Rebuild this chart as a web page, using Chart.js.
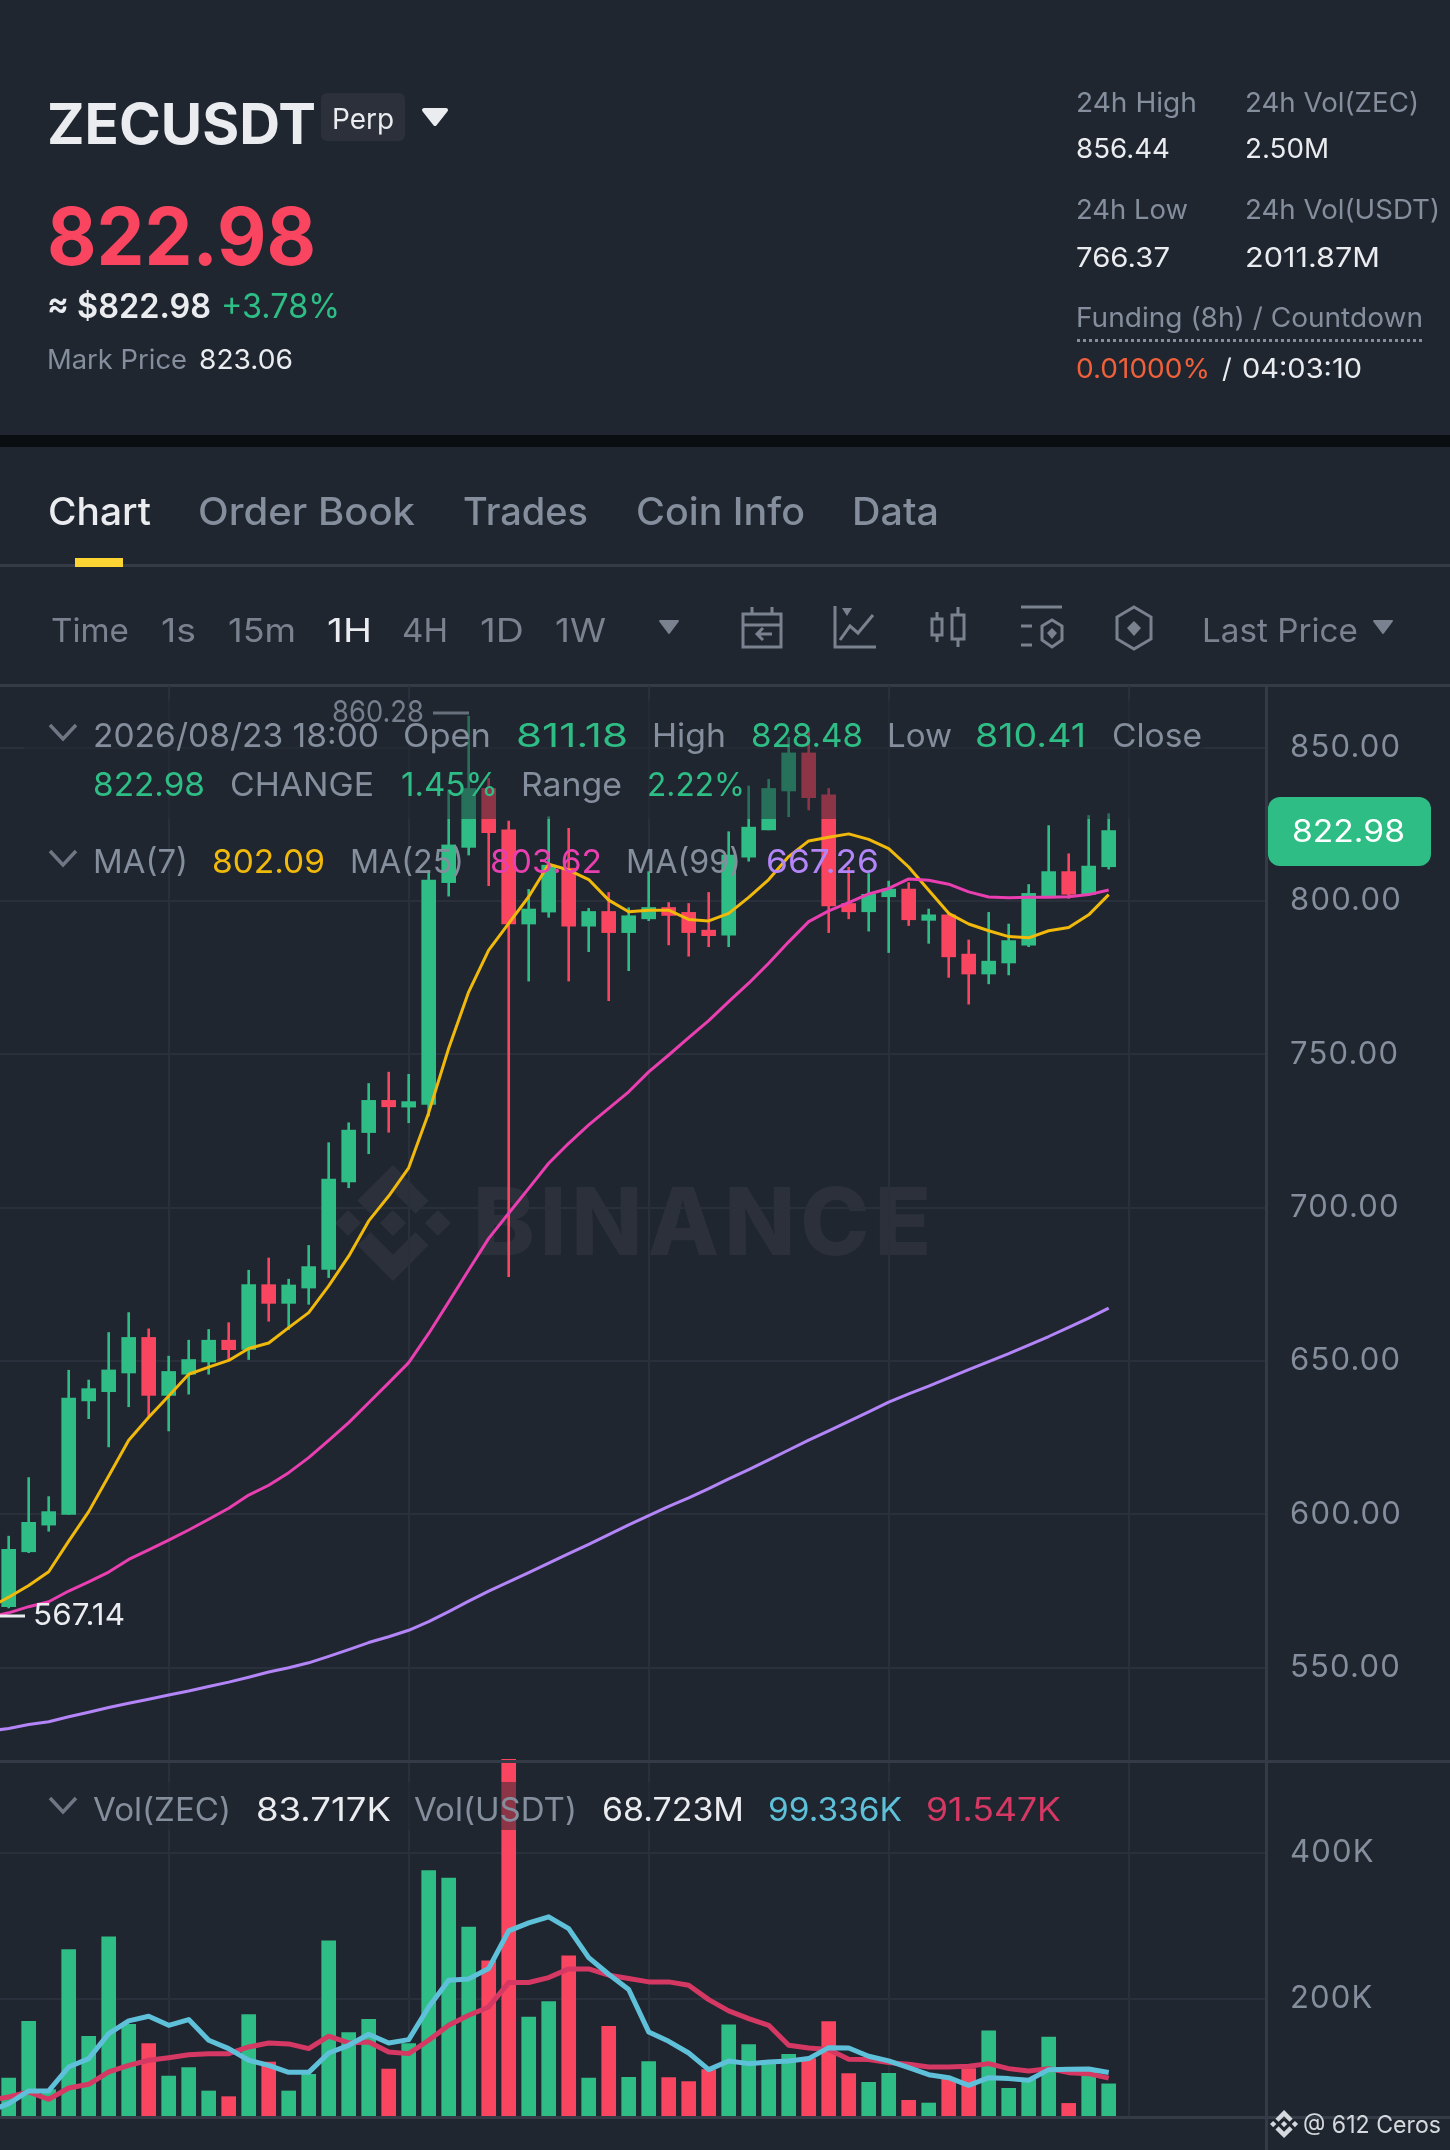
<!DOCTYPE html>
<html>
<head>
<meta charset="utf-8">
<title>ZECUSDT Perp</title>
<script src="https://cdn.jsdelivr.net/npm/chart.js@4/dist/chart.umd.min.js"></script>
<style>
  html, body { margin: 0; padding: 0; background: #1f2630; }
  body { position: relative; width: 1450px; height: 2150px; overflow: hidden; font-family: Inter, sans-serif; }
  canvas { position: absolute; left: 0; }
  .lbl { position: absolute; white-space: nowrap; line-height: 1; transform-origin: 0 50%; }
  .box { position: absolute; }
  svg { position: absolute; left: 0; top: 0; overflow: visible; }
</style>
</head>
<body>
<div class="box" style="left:0;top:435px;width:1450px;height:12px;background:#0b0e11"></div>
<div class="box" style="left:0;top:564px;width:1450px;height:3px;background:#343a46"></div>
<div class="box" style="left:75px;top:558px;width:48px;height:9px;background:#fcd535"></div>
<div class="box" style="left:0;top:684px;width:1450px;height:3px;background:#343a46"></div>
<div class="box" style="left:321px;top:93px;width:84px;height:48px;background:#2b303b;border-radius:6px"></div>
<div class="box" style="left:1077px;top:339px;width:345px;border-top:3px dotted #848e9c"></div>

<svg id="marks" width="1450" height="2150" style="z-index:0">
  <!-- watermark -->
  <g transform="translate(335 1165) scale(0.916)" fill="#2c303a">
    <polygon points="38.73,53.2 63.3,28.63 87.89,53.22 102.2,38.91 63.3,0 24.42,38.89"/>
    <polygon points="0,63.3 14.3,49 28.6,63.3 14.3,77.6"/>
    <polygon points="49,63.3 63.3,49 77.6,63.3 63.3,77.6"/>
    <polygon points="98,63.3 112.3,49 126.6,63.3 112.3,77.6"/>
    <polygon points="38.73,73.41 63.3,97.98 87.89,73.39 102.2,87.69 63.3,126.61 24.42,87.72"/>
  </g>
</svg>
<div class="lbl" id="wm" style="left:473px;top:1175px;font-size:93px;font-weight:800;color:#2c303a;letter-spacing:5px">BINANCE</div>

<canvas id="priceChart" width="1450" height="1075" style="top:686px;z-index:1"></canvas>
<canvas id="volChart" width="1450" height="393" style="top:1757px;z-index:1"></canvas>

<div class="box" style="left:24px;top:700px;width:1180px;height:119px;background:rgba(31,38,48,.5);z-index:2"></div>
<div class="box" style="left:24px;top:1782px;width:1050px;height:48px;background:rgba(31,38,48,.5);z-index:2"></div>
<div class="box" style="left:0;top:1760px;width:1450px;height:3px;background:#343a46;z-index:2"></div>
<div class="box" style="left:0;top:2116px;width:1450px;height:3px;background:#343a46;z-index:2"></div>
<div class="box" style="left:1265px;top:686px;width:3px;height:1464px;background:#343a46;z-index:2"></div>
<div class="box" id="lastTag" style="left:1268px;width:163px;height:69px;background:#2ebd85;border-radius:12px;z-index:3"></div>

<svg width="1450" height="2150" style="z-index:4" fill="none" stroke="#7a8290" stroke-width="3">
  <!-- dropdown triangles -->
  <polygon points="424,110 446,110 435,124" fill="#eaecef" stroke="#eaecef" stroke-linejoin="round" stroke-width="4"/>
  <polygon points="660,621 678,621 669,633" fill="#7a8290" stroke-linejoin="round" stroke-width="2"/>
  <polygon points="1374,621 1392,621 1383,633" fill="#7a8290" stroke-linejoin="round" stroke-width="2"/>
  <!-- toolbar icons -->
  <path d="M743 614h38v33h-38zM743 625h38M752 607v7M772 607v7M772 634h-15M763 628l-6 6 6 6"/>
  <path d="M835 606v41h41M840 640l10-14 8 7 15-18"/>
  <polygon points="842,608 852,608 847,616" fill="#7a8290" stroke="none"/>
  <path d="M932 619h10v16h-10zM937 612v7M937 635v7M952 615h12v24h-12zM958 607v8M958 639v8"/>
  <path d="M1021 607h41M1021 626h11M1021 645h11M1052 620l10 6v14l-10 7-10-7v-14z"/>
  <polygon points="1052,628 1057,633 1052,639 1047,633" fill="#7a8290" stroke="none"/>
  <path d="M1134 607l17 10v22l-17 10-17-10v-22z"/>
  <polygon points="1134,621 1141,628 1134,636 1127,628" fill="#7a8290" stroke="none"/>
  <!-- legend chevrons -->
  <g stroke="#6f7785" stroke-width="3.5">
    <polyline points="50,725 63,739 76,725"/>
    <polyline points="50,851 63,865 76,851"/>
    <polyline points="50,1798 63,1812 76,1798"/>
  </g>
  <!-- high / low markers -->
  <line x1="433" y1="713" x2="469" y2="713" stroke="#848e9c" stroke-opacity=".7"/>
  <line x1="0" y1="1616" x2="25" y2="1616" stroke="#eaecef"/>
  <g transform="translate(1270 2110) scale(0.222)" fill="#d5d8dc" stroke="none">
    <polygon points="38.73,53.2 63.3,28.63 87.89,53.22 102.2,38.91 63.3,0 24.42,38.89"/>
    <polygon points="0,63.3 14.3,49 28.6,63.3 14.3,77.6"/>
    <polygon points="49,63.3 63.3,49 77.6,63.3 63.3,77.6"/>
    <polygon points="98,63.3 112.3,49 126.6,63.3 112.3,77.6"/>
    <polygon points="38.73,73.41 63.3,97.98 87.89,73.39 102.2,87.69 63.3,126.61 24.42,87.72"/>
  </g>
</svg>

<script>
// candles, left to right, 1H
const opens = [569.9,587.8,596.5,600,637,640,646.1,657.7,638.8,645.7,649.7,656.8,653.8,674.9,668.8,673.8,679.9,708.4,724.5,735,732.8,733.7,806,817.5,836.7,823.2,792.5,796.4,810.7,791.8,796.6,789.7,794.2,797.9,796.3,790.5,788.9,814.3,823.2,835.9,848.3,834.6,799.2,796.5,801.4,803.9,793.7,795.5,782.7,776.2,779.8,785.6,801.6,809.6,802.2,811.18];
const highs = [592.9,612,605.8,647,643.8,659.3,665.8,660.5,651.6,656.8,660.3,662.5,679.6,683.6,676.7,687.7,721.2,727.7,740.5,744.2,743.5,810,836.2,860.28,840,826.1,803.8,827.5,823.7,797.6,802.8,797.8,809.6,799.5,799.2,802.8,822.6,837.5,839.7,853.4,856.44,836.7,811,809,806.5,806,797.4,796,787.3,796.3,792.5,805.4,824.6,815.4,827.9,828.48];
const lows = [569.5,587.5,594.5,600,631.2,622,635.1,632,627.2,639.2,645.7,650.5,650.5,663,660.3,668.5,677.2,706.5,717.6,724.6,727.7,729.9,801.6,815,805,677.5,773.9,794.7,773.9,783.5,767.5,777.3,793.6,785.7,782,785.1,785.1,813,823.2,827.5,829.7,789.7,794.2,790.2,783.2,792,786.2,775.1,766.37,773,775.9,785.1,801.4,800.9,802,810.41];
const closes = [588.6,597.4,600.9,637.9,641,647.1,657.7,638.8,646.6,650.5,656.8,653.7,674.9,668.8,674.8,680.8,709.3,725.3,735,732.9,734.6,806.8,818.3,836.7,822.3,792.5,797.4,811.7,791.8,796.6,789.7,795.2,797.9,795.3,789.7,788.7,815,824.1,836.7,848.3,833.7,798.4,796.5,802.2,803.9,793.9,795.5,781.8,776.2,780.4,787.1,802.5,809.6,802.2,811.4,822.98];

// the averages start one candle earlier, off the left edge of the pane
const ma7 = [569.5,573,576.8,581.3,591.3,600.9,612.5,624.2,631.7,638.6,645.7,648,650.2,654.1,655.9,660.9,665.8,674.5,684.2,695.7,703.8,713,731,752,770.4,784,792.7,801.4,812,810.1,807,800.3,796.5,797,797,794,793.5,796,801.2,807,814.5,819.6,820.8,821.9,820.1,817.1,811.1,803.5,796,792.5,790.3,788.4,788,790.3,791.4,795.5,802.09];
const ma25 = [566.5,567.9,569.9,571.5,575,578,581.2,585.3,588.4,591.6,594.9,598.4,602,606.3,609.5,613.6,618.5,624.1,629.9,636.4,642.9,649.5,659,669.3,679.7,690,698.2,706.3,714.5,721,727,732.4,737.8,744.3,749.8,755.5,761,767.2,773.2,779.7,786.7,793.3,796.8,799.5,802.3,804.1,807.2,806.8,805.5,803,801.3,801.1,801.2,801.2,801.4,802.1,803.62];
const ma99 = [529.3,530.2,531.5,532.4,534,535.5,537,538.4,539.7,541.1,542.4,543.9,545.3,546.9,548.6,550,551.6,553.7,555.9,558.2,560.1,562.2,565,568.3,571.7,575,578,581,584.1,587.2,590.2,593.4,596.6,599.6,602.6,605.4,608.4,611.6,614.6,617.8,621,624.2,627.2,630.3,633.4,636.6,639.3,641.8,644.5,647.2,649.8,652.4,655.2,658,661,664,667.26];

// volume in thousands of ZEC
const volumes = [91.8,169.4,75.8,267.6,148.9,284.9,165.3,138.8,94.5,105.9,74,66.2,178.5,113.7,74,96.8,279.5,153.9,172.1,104.1,138.8,375.8,365.3,298.2,252.1,528,175.3,196.3,258.9,91.8,162.6,92.7,114.2,92.2,86.8,103.2,164.4,137.4,116,124.2,118.3,169,97.7,85.8,98.2,61.2,57.5,90.9,104.6,156.2,77.6,90.9,147.9,57,104.6,83.717];
const volMaFast = [46,56.6,74,74,106.8,118.3,152.5,169.9,176.3,163.9,171.7,143.4,132,116,109.1,99.5,99.5,126,136.5,151.6,139.7,144.3,189,225.6,227.4,241.6,293.2,304.1,312.3,296.3,256.6,233.8,212.8,154.8,142,126,103.2,115.1,111.4,113.7,115.1,118.3,133.3,132.9,121.5,115.1,105.9,96.3,92.2,81.7,92.2,90.9,88.6,103.2,103.7,104.1,99.336];
const volMaSlow = [61,65.8,72.6,62.6,78.1,83.1,100,109.1,116,119.6,123.7,125.1,125.1,134.2,139.7,138.4,132,148.9,139.7,141.1,127.4,125.1,143.4,163.9,177.6,189,222.4,222.4,229.2,241.1,241.1,232.4,227.9,223.3,223.3,218.7,199,183.6,173,163.9,136.5,132.9,130.6,117.4,116.9,112.8,110.5,106.8,106.8,107.8,111.4,104.6,101.4,104.6,99.1,97.7,91.547];

const priceTicks = [550,600,650,700,750,800,850];
const volTicks = [200,400];
const gridCandles = [8,20,32,44,56];
const lastPrice = 822.98;

const UP = '#2ebd85', DOWN = '#f9455f', GRID = '#2a303b', AXIS_TEXT = '#848e9c';
const candleColors = closes.map((c, i) => c >= opens[i] ? UP : DOWN);

function xScale() {
  return {
    type: 'linear', min: -0.435, max: 62.865, offset: false,
    afterBuildTicks: s => { s.ticks = gridCandles.map(v => ({ value: v })); },
    ticks: { display: false },
    grid: { color: GRID, lineWidth: 2, drawTicks: false, offset: false },
    border: { display: false }
  };
}

function yScale(min, max, tickList, fmt) {
  return {
    position: 'right', min, max,
    afterBuildTicks: s => { s.ticks = tickList.map(v => ({ value: v })); },
    // no margin for the outer labels, the ticks are not at the pane edges
    afterFit: s => { s.width = 184; s.paddingTop = 0; s.paddingBottom = 0; },
    ticks: { color: AXIS_TEXT, padding: 24, crossAlign: 'near', font: { family: 'Inter', size: 31 }, callback: fmt },
    grid: { color: GRID, lineWidth: 2, drawTicks: false },
    border: { display: false }
  };
}

function lineSet(values, color, width) {
  return { type: 'line', data: values.map((y, i) => ({ x: i - 1, y })), borderColor: color, borderWidth: width,
    pointRadius: 0, tension: 0, order: 0, borderJoinStyle: 'round' };
}

// chart.js has no letter spacing option, tick labels need a bit more width
const spaced = { id: 'spaced', beforeDraw: c => { c.ctx.letterSpacing = '1.2px'; } };

const priceChart = new Chart(document.getElementById('priceChart'), {
  type: 'bar',
  plugins: [spaced],
  data: {
    datasets: [
      { data: lows.map((l, x) => ({ x, y: [l, highs[x]] })), backgroundColor: candleColors, barThickness: 2, grouped: false, order: 2 },
      { data: opens.map((o, x) => ({ x, y: [o, closes[x]] })), backgroundColor: candleColors, barThickness: 14, grouped: false, order: 1 },
      lineSet(ma99, '#b385f8', 3),
      lineSet(ma25, '#ea3fb0', 3),
      lineSet(ma7, '#f0b90b', 3)
    ]
  },
  options: {
    responsive: false, animation: false, events: [],
    layout: { padding: 0 },
    plugins: { legend: { display: false }, tooltip: { enabled: false } },
    scales: { x: xScale(), y: yScale(519.58, 870.12, priceTicks, v => v.toFixed(2)) }
  }
});

new Chart(document.getElementById('volChart'), {
  type: 'bar',
  plugins: [spaced],
  data: {
    datasets: [
      { data: volumes.map((y, x) => ({ x, y })), backgroundColor: candleColors, barThickness: 14, order: 1 },
      lineSet(volMaFast, '#5ec1d9', 5),
      lineSet(volMaSlow, '#d63864', 5)
    ]
  },
  options: {
    responsive: false, animation: false, events: [],
    layout: { padding: { bottom: 32 } },
    plugins: { legend: { display: false }, tooltip: { enabled: false } },
    scales: { x: xScale(), y: yScale(37, 531.1, volTicks, v => v + 'K') }
  }
});

// text helper: x, baseline, size, colour, string, target width
function label(x, base, size, color, text, width, weight) {
  const el = document.createElement('div');
  el.className = 'lbl';
  el.style.cssText = `left:${x}px;top:0;font-size:${size}px;color:${color};font-weight:${weight || 400};z-index:5`;
  el.textContent = text;
  const mark = document.createElement('i');
  mark.style.cssText = 'display:inline-block;width:0;height:0';
  el.appendChild(mark);
  document.body.appendChild(el);
  el.style.top = (base - mark.getBoundingClientRect().bottom) + 'px';
  if (width) el.style.transform = `scaleX(${width / el.getBoundingClientRect().width})`;
}

const WHITE = '#eaecef', GRAY = '#848e9c', DIM = '#7a8290', GREEN = '#2ebd85';

// header
label(47, 144, 56, WHITE, 'ZECUSDT', 269, 700);
label(332, 129, 28, WHITE, 'Perp', 62);
label(47, 265, 80, DOWN, '822.98', 269, 700);
label(47, 318, 34, WHITE, '≈ $822.98', 164, 600);
label(221, 318, 34, GREEN, '+3.78%', 119);
label(47, 369, 27, GRAY, 'Mark Price', 140);
label(199, 369, 27, WHITE, '823.06', 94);
label(1076, 112, 27, GRAY, '24h High', 121);
label(1245, 112, 27, GRAY, '24h Vol(ZEC)', 174);
label(1076, 158, 27, WHITE, '856.44', 94);
label(1245, 158, 27, WHITE, '2.50M', 84);
label(1076, 219, 27, GRAY, '24h Low', 112);
label(1245, 219, 27, GRAY, '24h Vol(USDT)', 195);
label(1076, 267, 27, WHITE, '766.37', 94);
label(1245, 267, 27, WHITE, '2011.87M', 135);
label(1076, 327, 27, GRAY, 'Funding (8h) / Countdown', 347);
label(1076, 378, 27, '#f0603a', '0.01000%', 134);
label(1222, 378, 27, WHITE, '/');
label(1242, 378, 27, WHITE, '04:03:10', 120);

// tabs and toolbar
label(48, 525, 38, WHITE, 'Chart', 103, 500);
label(198, 525, 38, GRAY, 'Order Book', 217, 500);
label(463, 525, 38, GRAY, 'Trades', 125, 500);
label(636, 525, 38, GRAY, 'Coin Info', 169, 500);
label(852, 525, 38, GRAY, 'Data', 87, 500);
label(51, 642, 33, DIM, 'Time', 78);
label(161, 642, 33, DIM, '1s', 35);
label(228, 642, 33, DIM, '15m', 68);
label(327, 642, 33, WHITE, '1H', 45);
label(402, 642, 33, DIM, '4H', 46);
label(480, 642, 33, DIM, '1D', 44);
label(555, 642, 33, DIM, '1W', 51);
label(1202, 642, 33, DIM, 'Last Price', 156);

// price legend
label(93, 747, 33, GRAY, '2026/08/23 18:00', 286);
label(403, 747, 33, GRAY, 'Open', 88);
label(516, 747, 33, GREEN, '811.18', 112);
label(652, 747, 33, GRAY, 'High', 74);
label(751, 747, 33, GREEN, '828.48', 112);
label(887, 747, 33, GRAY, 'Low', 65);
label(975, 747, 33, GREEN, '810.41', 111);
label(1112, 747, 33, GRAY, 'Close', 90);
label(93, 796, 33, GREEN, '822.98', 112);
label(230, 796, 33, GRAY, 'CHANGE', 144);
label(401, 796, 33, GREEN, '1.45%', 97);
label(521, 796, 33, GRAY, 'Range', 101);
label(647, 796, 33, GREEN, '2.22%', 98);
label(93, 873, 33, GRAY, 'MA(7)', 95);
label(212, 873, 33, '#f0b90b', '802.09', 113);
label(350, 873, 33, GRAY, 'MA(25)', 114);
label(490, 873, 33, '#ea3fb0', '803.62', 112);
label(626, 873, 33, GRAY, 'MA(99)', 115);
label(766, 873, 33, '#b385f8', '667.26', 113);
label(332, 722, 30, 'rgba(132,142,156,.85)', '860.28', 92);
label(33, 1625, 30, WHITE, '567.14', 92);

// volume legend
label(93, 1821, 32, GRAY, 'Vol(ZEC)', 138);
label(256, 1821, 32, WHITE, '83.717K', 135);
label(414, 1821, 32, GRAY, 'Vol(USDT)', 163);
label(602, 1821, 32, WHITE, '68.723M', 142);
label(768, 1821, 32, '#5ec1d9', '99.336K', 134);
label(926, 1821, 32, '#d63864', '91.547K', 135);
label(1303, 2133, 24, '#d5d8dc', '@ 612 Ceros', 138);

// last price tag follows the scale
const tagY = priceChart.scales.y.getPixelForValue(lastPrice) + 686;
document.getElementById('lastTag').style.top = (tagY - 34) + 'px';
label(1292, tagY + 11, 31, '#ffffff', lastPrice.toFixed(2), 113);
</script>
</body>
</html>
